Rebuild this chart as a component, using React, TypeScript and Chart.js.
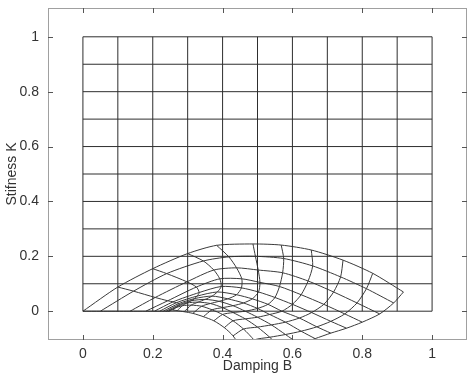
import React, { useEffect, useRef } from "react";
import { Chart, registerables } from "chart.js";

Chart.register(...registerables);

// ---- axis data ----
const tickValues = [0, 0.2, 0.4, 0.6, 0.8, 1];
const tickLabels = ["0", "0.2", "0.4", "0.6", "0.8", "1"];
const gridValues = [0, 0.1, 0.2, 0.3, 0.4, 0.5, 0.6, 0.7, 0.8, 0.9, 1];
const xTitle = "Damping B";
const yTitle = "Stifness K";

// ---- curvilinear mesh: each column runs from the inner curve (first point) to the outer arc (last point) ----
const meshCol0 = [[0.25, 0.005], [0.248, 0], [0.244, 0], [0.238, 0], [0.23, 0], [0.22, 0], [0.205, 0], [0.18, 0], [0.135, 0], [0.05, 0], [0, 0]];
const meshCol1 = [[0.258, 0.004], [0.265, 0.012], [0.272, 0.018], [0.276, 0.024], [0.275, 0.028], [0.268, 0.031], [0.258, 0.034], [0.243, 0.038], [0.207, 0.05], [0.145, 0.073], [0.1, 0.088]];
const meshCol2 = [[0.27, 0.002], [0.285, 0.02], [0.298, 0.03], [0.31, 0.038], [0.32, 0.046], [0.327, 0.055], [0.333, 0.068], [0.325, 0.088], [0.298, 0.107], [0.24, 0.137], [0.2, 0.155]];
const meshCol3 = [[0.29, -0.002], [0.31, 0.022], [0.33, 0.033], [0.35, 0.043], [0.37, 0.055], [0.385, 0.07], [0.396, 0.09], [0.392, 0.118], [0.375, 0.15], [0.345, 0.183], [0.3, 0.21]];
const meshCol4 = [[0.315, -0.008], [0.34, 0.018], [0.365, 0.028], [0.39, 0.036], [0.415, 0.045], [0.44, 0.06], [0.454, 0.085], [0.455, 0.118], [0.44, 0.158], [0.418, 0.198], [0.383, 0.24]];
const meshCol5 = [[0.345, -0.02], [0.37, 0.005], [0.4, 0.013], [0.43, 0.02], [0.46, 0.03], [0.485, 0.045], [0.503, 0.07], [0.507, 0.105], [0.502, 0.15], [0.494, 0.2], [0.487, 0.245]];
const meshCol6 = [[0.375, -0.035], [0.4, -0.012], [0.43, -0.005], [0.465, 0], [0.5, 0.01], [0.53, 0.025], [0.55, 0.05], [0.563, 0.09], [0.572, 0.14], [0.575, 0.192], [0.568, 0.241]];
const meshCol7 = [[0.405, -0.06], [0.43, -0.035], [0.465, -0.028], [0.5, -0.022], [0.535, -0.012], [0.57, 0], [0.6, 0.025], [0.625, 0.06], [0.645, 0.11], [0.658, 0.165], [0.654, 0.223]];
const meshCol8 = [[0.43, -0.09], [0.46, -0.065], [0.5, -0.058], [0.54, -0.05], [0.58, -0.04], [0.62, -0.025], [0.655, -0.005], [0.69, 0.025], [0.718, 0.07], [0.738, 0.125], [0.745, 0.186]];
const meshCol9 = [[0.455, -0.14], [0.49, -0.105], [0.535, -0.095], [0.58, -0.085], [0.625, -0.073], [0.67, -0.057], [0.71, -0.037], [0.75, -0.01], [0.785, 0.03], [0.812, 0.082], [0.83, 0.138]];
const meshCol10 = [[0.48, -0.2], [0.52, -0.155], [0.57, -0.14], [0.62, -0.12], [0.665, -0.1], [0.71, -0.08], [0.755, -0.062], [0.8, -0.04], [0.85, -0.01], [0.89, 0.03], [0.918, 0.07]];

const meshCols = [meshCol0, meshCol1, meshCol2, meshCol3, meshCol4, meshCol5, meshCol6, meshCol7, meshCol8, meshCol9, meshCol10];

const FONT = "'Liberation Sans', Arial, Helvetica, sans-serif";
const TEXT = "#333333";

const framePlugin = {
  id: "frameTicks",
  afterDraw(chart: any) {
    const { ctx, chartArea: a, scales } = chart;
    const x = scales.x;
    const y = scales.y;
    ctx.save();
    ctx.lineWidth = 1;
    ctx.strokeStyle = "#a0a0a0";
    ctx.strokeRect(Math.round(a.left) + 0.5, Math.round(a.top) + 0.5, Math.round(a.right - a.left) - 1, Math.round(a.bottom - a.top) - 1);
    ctx.strokeStyle = "#555555";
    ctx.beginPath();
    for (const v of tickValues) {
      const px = Math.round(x.getPixelForValue(v)) + 0.5;
      ctx.moveTo(px, a.bottom);
      ctx.lineTo(px, a.bottom - 5);
      ctx.moveTo(px, a.top);
      ctx.lineTo(px, a.top + 5);
      const py = Math.round(y.getPixelForValue(v)) + 0.5;
      ctx.moveTo(a.left, py);
      ctx.lineTo(a.left + 5, py);
      ctx.moveTo(a.right, py);
      ctx.lineTo(a.right - 5, py);
    }
    ctx.stroke();
    ctx.restore();
  },
};

export default function App() {
  const ref = useRef<HTMLCanvasElement | null>(null);

  useEffect(() => {
    const canvas = ref.current;
    if (!canvas) return;

    const datasets: any[] = [];
    const lineStyle = (color: string, w: number) => ({
      showLine: true,
      borderColor: color,
      borderWidth: w,
      pointRadius: 0,
      pointHoverRadius: 0,
      fill: false,
      tension: 0,
    });

    // square grid
    for (const v of gridValues) {
      datasets.push({ data: [{ x: v, y: 0 }, { x: v, y: 1 }], ...lineStyle("#2e2e2e", 1) });
      datasets.push({ data: [{ x: 0, y: v }, { x: 1, y: v }], ...lineStyle("#2e2e2e", 1) });
    }

    // mesh columns
    for (const col of meshCols) {
      datasets.push({ data: col.map(([px, py]) => ({ x: px, y: py })), ...lineStyle("#3a3a3a", 1), tension: 0.25 });
    }
    // mesh rows (same nodes, taken across columns)
    const nRows = meshCol0.length;
    for (let i = 0; i < nRows; i++) {
      datasets.push({ data: meshCols.map((c) => ({ x: c[i][0], y: c[i][1] })), ...lineStyle("#3a3a3a", 1), tension: 0.25 });
    }

    const chart = new Chart(canvas, {
      type: "scatter",
      data: { datasets },
      options: {
        responsive: false,
        animation: false,
        devicePixelRatio: 1,
        layout: { padding: { left: 0, top: 8, right: 7, bottom: 0 } },
        plugins: { legend: { display: false }, tooltip: { enabled: false } },
        scales: {
          x: {
            type: "linear",
            min: -0.1,
            max: 1.1,
            grid: { display: false, drawTicks: false },
            border: { display: false },
            afterBuildTicks: (s: any) => {
              s.ticks = tickValues.map((v) => ({ value: v }));
            },
            afterFit: (s: any) => {
              s.height = 35;
              s.paddingLeft = 0;
              s.paddingRight = 0;
            },
            ticks: {
              autoSkip: false,
              maxRotation: 0,
              padding: 6,
              color: TEXT,
              font: { family: FONT, size: 14 },
              callback: (_v: any, i: number) => tickLabels[i],
            },
            title: {
              display: true,
              text: xTitle,
              color: TEXT,
              font: { family: FONT, size: 14 },
              padding: { top: 0, bottom: 0 },
            },
          },
          y: {
            type: "linear",
            min: -0.105,
            max: 1.105,
            grid: { display: false, drawTicks: false },
            border: { display: false },
            afterBuildTicks: (s: any) => {
              s.ticks = tickValues.map((v) => ({ value: v }));
            },
            afterFit: (s: any) => {
              s.width = 48;
              s.paddingTop = 0;
              s.paddingBottom = 0;
            },
            ticks: {
              autoSkip: false,
              padding: 9,
              color: TEXT,
              font: { family: FONT, size: 14 },
              callback: (_v: any, i: number) => tickLabels[i],
            },
            title: {
              display: true,
              text: yTitle,
              color: TEXT,
              font: { family: FONT, size: 14 },
              padding: { top: 4, bottom: 0 },
            },
          },
        },
      },
      plugins: [framePlugin],
    });

    return () => chart.destroy();
  }, []);

  return (
    <div style={{ position: "absolute", left: 0, top: 0, width: 474, height: 375, background: "#ffffff" }}>
      <canvas ref={ref} width={474} height={375} style={{ width: 474, height: 375, display: "block" }} />
    </div>
  );
}
